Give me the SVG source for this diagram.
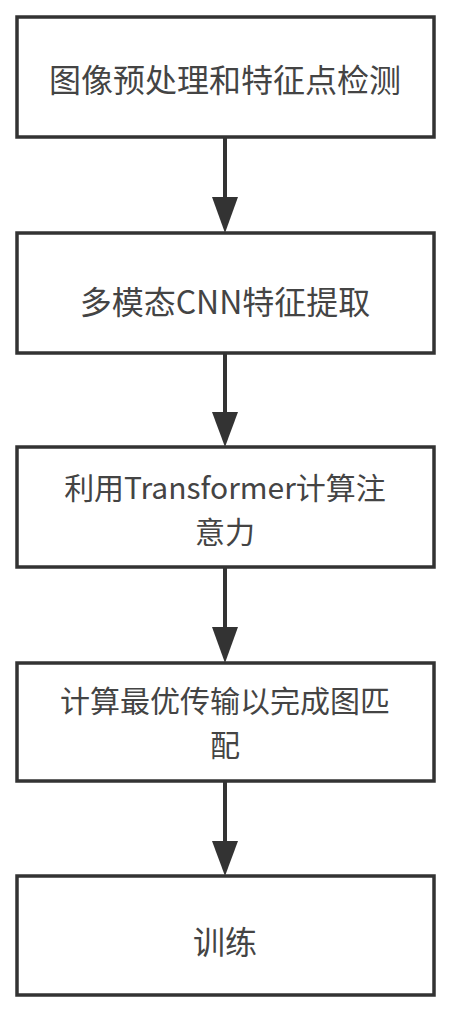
<svg xmlns="http://www.w3.org/2000/svg" width="450" height="1011" viewBox="0 0 450 1011">
<style>
.box{fill:#fff;stroke:#333;stroke-width:3.5}
.lbl{font-family:"Microsoft YaHei","Noto Sans CJK SC","Noto Sans",sans-serif;font-size:32px;fill:#444;text-anchor:middle;dominant-baseline:central}
.two{font-size:30px}
.conn{stroke:#333;stroke-width:4;fill:none}
.head{fill:#333}
</style>
<rect width="450" height="1011" fill="#fff"/>
<g id="n1"><rect class="box" x="17" y="17" width="417" height="120"/><text class="lbl" x="225" y="78">图像预处理和特征点检测</text></g>
<g id="n2"><rect class="box" x="17" y="233" width="417" height="120"/><text class="lbl" x="225" y="300">多模态CNN特征提取</text></g>
<g id="n3"><rect class="box" x="17" y="447" width="417" height="120"/><text class="lbl two" x="225" y="486">利用Transformer计算注</text><text class="lbl two" x="225" y="530">意力</text></g>
<g id="n4"><rect class="box" x="17" y="663" width="417" height="118"/><text class="lbl two" x="225" y="699">计算最优传输以完成图匹</text><text class="lbl two" x="225" y="743">配</text></g>
<g id="n5"><rect class="box" x="17" y="876" width="417" height="119"/><text class="lbl" x="225" y="940">训练</text></g>
<g id="connectors">
<line class="conn" x1="225" y1="137" x2="225" y2="200"/><polygon class="head" points="212,197 238,197 225,233"/>
<line class="conn" x1="225" y1="353" x2="225" y2="415"/><polygon class="head" points="212,412 238,412 225,447"/>
<line class="conn" x1="225" y1="567" x2="225" y2="630"/><polygon class="head" points="212,627 238,627 225,663"/>
<line class="conn" x1="225" y1="781" x2="225" y2="844"/><polygon class="head" points="212,841 238,841 225,876"/>
</g>
</svg>
